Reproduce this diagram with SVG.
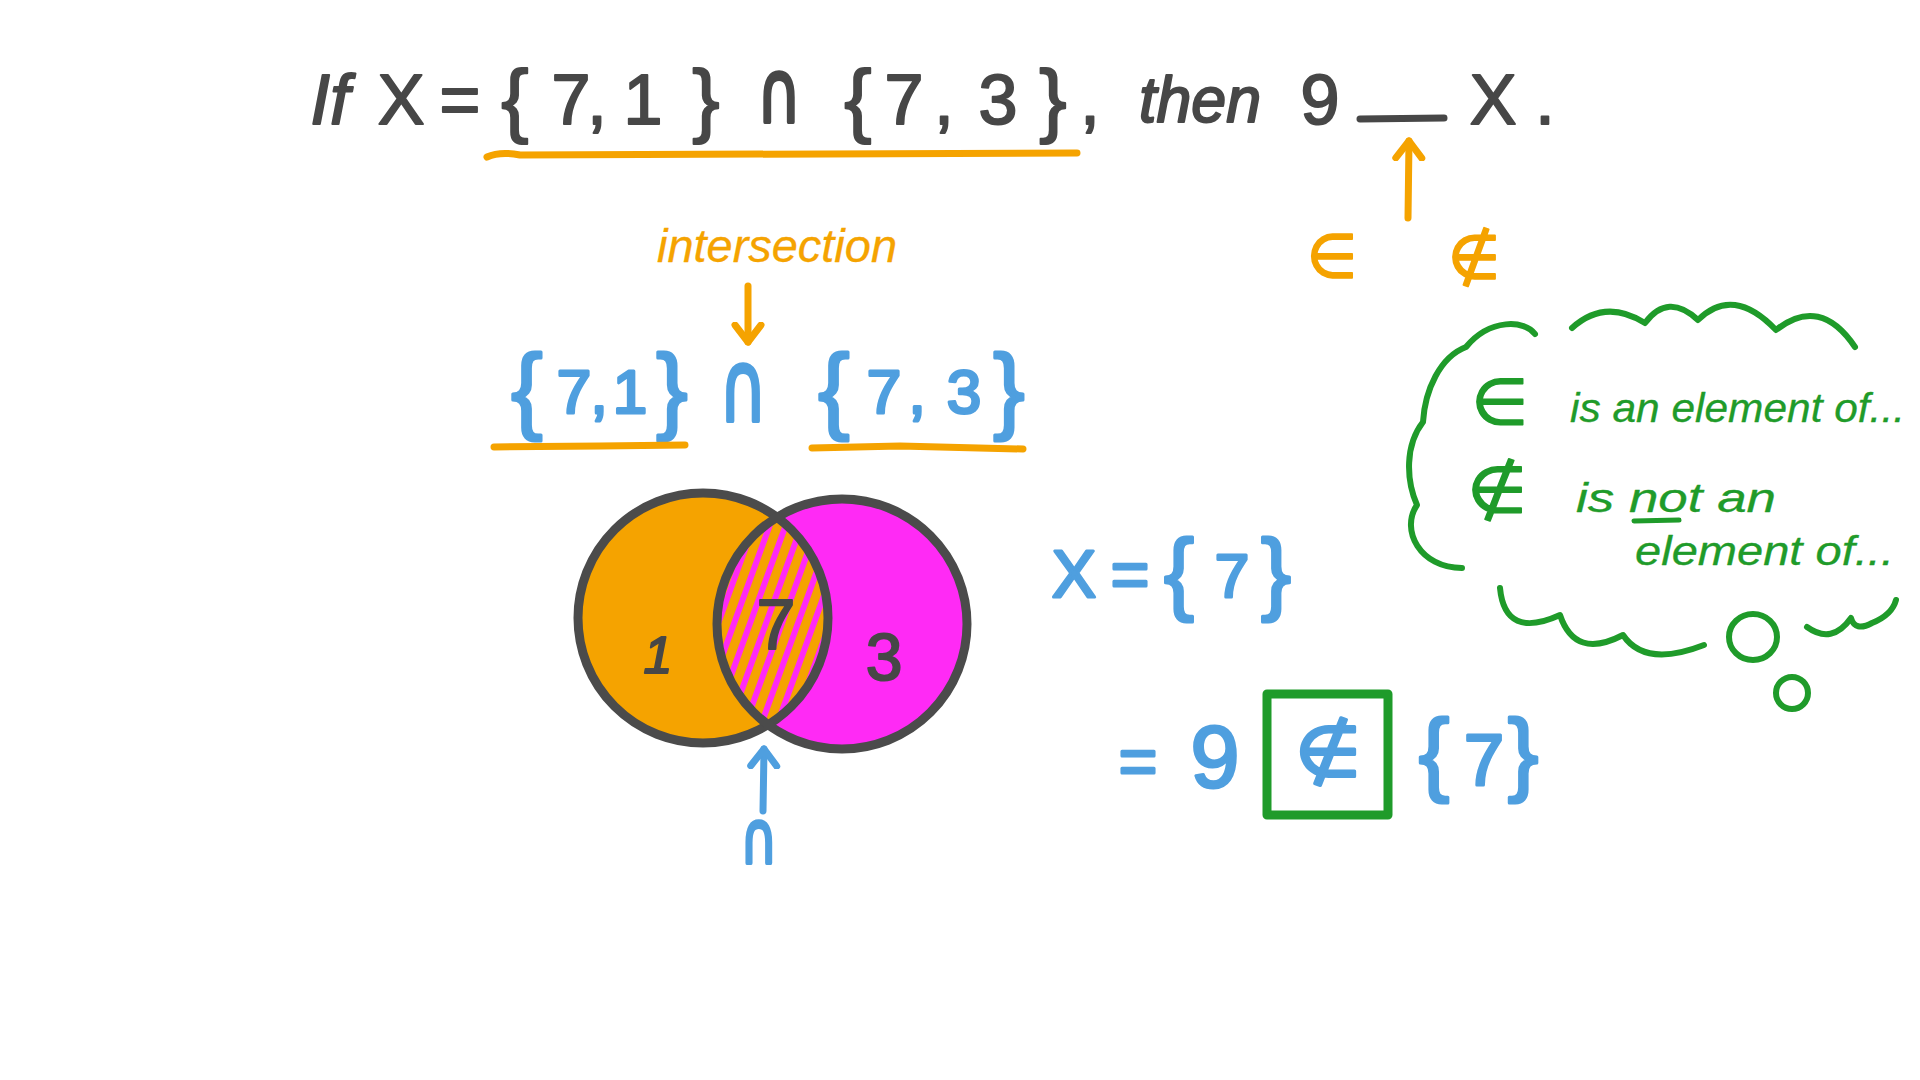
<svg xmlns="http://www.w3.org/2000/svg" width="1920" height="1080" viewBox="0 0 1920 1080">
<style>
text{font-family:"Liberation Sans","DejaVu Sans",sans-serif;stroke-linejoin:round;stroke-linecap:round}
.sym{font-family:"DejaVu Sans","Liberation Sans",sans-serif}
.dk{fill:#474747;stroke:#474747;stroke-width:2}
.bl{fill:#4f9fdf;stroke:#4f9fdf;stroke-width:3}
.or{fill:#f5a300;stroke:#f5a300;stroke-width:2}
.gr{fill:#1f9b2a;stroke:#1f9b2a;stroke-width:1.5}
.thin{stroke-width:0.3}
.cap{stroke-width:4}
.it{font-style:italic}
.mid{text-anchor:middle}
.ln{fill:none;stroke-linecap:round;stroke-linejoin:round}
</style>
<defs>
<marker id="hOr" markerUnits="userSpaceOnUse" markerWidth="40" markerHeight="40" refX="20" refY="20" orient="auto" viewBox="0 0 40 40">
<path d="M3,7 L20,20 L3,33" fill="none" stroke="#f5a300" stroke-width="7" stroke-linecap="round" stroke-linejoin="round"/>
</marker>
<marker id="hBl" markerUnits="userSpaceOnUse" markerWidth="40" markerHeight="40" refX="20" refY="20" orient="auto" viewBox="0 0 40 40">
<path d="M3,7 L20,20 L3,33" fill="none" stroke="#4f9fdf" stroke-width="7" stroke-linecap="round" stroke-linejoin="round"/>
</marker>
<pattern id="hatch" patternUnits="userSpaceOnUse" width="15" height="15" patternTransform="rotate(20)">
<rect width="15" height="15" fill="#f5a300"/>
<rect width="6" height="15" fill="#ff2af5"/>
</pattern>
<clipPath id="clipL"><circle cx="703" cy="618" r="125"/></clipPath>
</defs>
<rect width="1920" height="1080" fill="#ffffff"/>

<g id="title">
<text class="dk it" x="330" y="124" font-size="70" text-anchor="middle">If</text>
<text class="dk mid" x="401" y="124" font-size="70">X</text>
<text class="dk mid" x="460" y="124" font-size="70">=</text>
<text class="dk mid" x="515" y="127" font-size="82">{</text>
<text class="dk mid" x="571" y="124" font-size="70">7</text>
<text class="dk mid" x="597" y="124" font-size="70">,</text>
<text class="dk mid" x="643" y="124" font-size="70">1</text>
<text class="dk mid" x="706" y="127" font-size="82">}</text>
<text class="dk mid sym cap" x="779" y="122" font-size="86" textLength="44" lengthAdjust="spacingAndGlyphs">∩</text>
<text class="dk mid" x="858" y="127" font-size="82">{</text>
<text class="dk mid" x="904" y="124" font-size="70">7</text>
<text class="dk mid" x="944" y="124" font-size="70">,</text>
<text class="dk mid" x="998" y="124" font-size="70">3</text>
<text class="dk mid" x="1053" y="127" font-size="82">}</text>
<text class="dk mid" x="1090" y="124" font-size="70">,</text>
<text class="dk it" x="1139" y="122" font-size="64" textLength="122" lengthAdjust="spacingAndGlyphs">then</text>
<text class="dk mid" x="1320" y="124" font-size="70">9</text>
<path class="ln" d="M1360,119 L1444,118" stroke="#474747" stroke-width="7"/>
<text class="dk mid" x="1493" y="124" font-size="70">X</text>
<text class="dk mid" x="1545" y="124" font-size="70">.</text>
<path class="ln" d="M487,157 Q500,151 520,155 L1077,153" stroke="#f5a300" stroke-width="7"/>
</g>

<g id="choices">
<text class="or mid sym" x="1332" y="277" font-size="60" textLength="50" lengthAdjust="spacingAndGlyphs">∈</text>
<text class="or mid sym" x="1474" y="278" font-size="60" textLength="52" lengthAdjust="spacingAndGlyphs">∉</text>
</g>

<g id="intersection-label">
<text class="or it thin" x="657" y="262" font-size="46" textLength="240" lengthAdjust="spacingAndGlyphs">intersection</text>
</g>

<g id="sets">
<text class="bl mid" x="527" y="421" font-size="94">{</text>
<text class="bl mid" x="574" y="413" font-size="62">7</text>
<text class="bl mid" x="599" y="413" font-size="62">,</text>
<text class="bl mid" x="630" y="413" font-size="62">1</text>
<text class="bl mid" x="672" y="421" font-size="94">}</text>
<text class="bl mid sym cap" x="743" y="421" font-size="98" textLength="48" lengthAdjust="spacingAndGlyphs" stroke-width="5">∩</text>
<text class="bl mid" x="834" y="421" font-size="94">{</text>
<text class="bl mid" x="884" y="413" font-size="62">7</text>
<text class="bl mid" x="917" y="413" font-size="62">,</text>
<text class="bl mid" x="964" y="413" font-size="62">3</text>
<text class="bl mid" x="1009" y="421" font-size="94">}</text>
<path class="ln" d="M494,447 L600,446 L685,445" stroke="#f5a300" stroke-width="7"/>
<path class="ln" d="M812,448 L900,446 L1023,449" stroke="#f5a300" stroke-width="7"/>
</g>

<g id="venn">
<circle cx="703" cy="618" r="125" fill="#f5a300"/>
<circle cx="842" cy="624" r="125" fill="#ff2af5"/>
<circle cx="842" cy="624" r="125" fill="url(#hatch)" clip-path="url(#clipL)"/>
<circle cx="703" cy="618" r="125" fill="none" stroke="#4b4b4b" stroke-width="9"/>
<circle cx="842" cy="624" r="125" fill="none" stroke="#4b4b4b" stroke-width="9"/>
<text class="dk mid it" x="658" y="673" font-size="52">1</text>
<text class="dk mid" x="776" y="649" font-size="70">7</text>
<text class="dk mid" x="884" y="680" font-size="66">3</text>
<text class="bl mid sym cap" x="759" y="863" font-size="72" textLength="37" lengthAdjust="spacingAndGlyphs">∩</text>
</g>

<g id="result">
<text class="bl mid" x="1074" y="597" font-size="66">X</text>
<text class="bl mid" x="1130" y="597" font-size="66">=</text>
<text class="bl mid" x="1179" y="603" font-size="90">{</text>
<text class="bl mid" x="1232" y="597" font-size="62">7</text>
<text class="bl mid" x="1276" y="603" font-size="90">}</text>
<text class="bl mid" x="1138" y="784" font-size="66">=</text>
<text class="bl mid" x="1215" y="787" font-size="88">9</text>
<rect x="1267" y="694" width="121" height="121" fill="none" stroke="#1f9b2a" stroke-width="9" stroke-linejoin="round"/>
<text class="bl mid sym" x="1328" y="776" font-size="70" textLength="66" lengthAdjust="spacingAndGlyphs">∉</text>
<text class="bl mid" x="1434" y="784" font-size="92">{</text>
<text class="bl mid" x="1484" y="785" font-size="72">7</text>
<text class="bl mid" x="1523" y="784" font-size="92">}</text>
</g>

<g id="thought-cloud">
<path class="ln" stroke="#1f9b2a" stroke-width="6" d="M1572,328 Q1605,298 1645,323 Q1668,292 1698,320 Q1733,285 1776,330 Q1820,295 1855,347"/>
<path class="ln" stroke="#1f9b2a" stroke-width="6" d="M1535,334 C1525,320 1490,318 1466,347 C1440,357 1425,390 1423,422 C1405,445 1406,480 1417,505 C1400,530 1420,568 1462,568"/>
<path class="ln" stroke="#1f9b2a" stroke-width="6" d="M1500,588 Q1505,640 1560,615 Q1575,660 1623,635 Q1645,668 1704,645"/>
<path class="ln" stroke="#1f9b2a" stroke-width="6" d="M1807,627 Q1832,645 1851,618 Q1855,632 1872,623 Q1892,615 1896,600"/>
<ellipse class="ln" cx="1753" cy="637" rx="24" ry="23" stroke="#1f9b2a" stroke-width="6"/>
<circle class="ln" cx="1792" cy="693" r="16" stroke="#1f9b2a" stroke-width="6"/>
<text class="gr mid sym" x="1500" y="424" font-size="64" textLength="57" lengthAdjust="spacingAndGlyphs">∈</text>
<text class="gr it thin" x="1570" y="422" font-size="40" textLength="335" lengthAdjust="spacingAndGlyphs">is an element of...</text>
<text class="gr mid sym" x="1497" y="512" font-size="64" textLength="60" lengthAdjust="spacingAndGlyphs">∉</text>
<text class="gr it thin" x="1576" y="512" font-size="40" textLength="200" lengthAdjust="spacingAndGlyphs">is not an</text>
<path class="ln" d="M1634,521 L1679,520" stroke="#1f9b2a" stroke-width="5"/>
<text class="gr it thin" x="1635" y="565" font-size="40" textLength="259" lengthAdjust="spacingAndGlyphs">element of...</text>
</g>

<g id="connectors">
<path class="ln" d="M1408,218 L1409,141" stroke="#f5a300" stroke-width="7" marker-end="url(#hOr)"/>
<path class="ln" d="M748,286 L748,342" stroke="#f5a300" stroke-width="7" marker-end="url(#hOr)"/>
<path class="ln" d="M763,811 L764,749" stroke="#4f9fdf" stroke-width="7" marker-end="url(#hBl)"/>
</g>
</svg>
